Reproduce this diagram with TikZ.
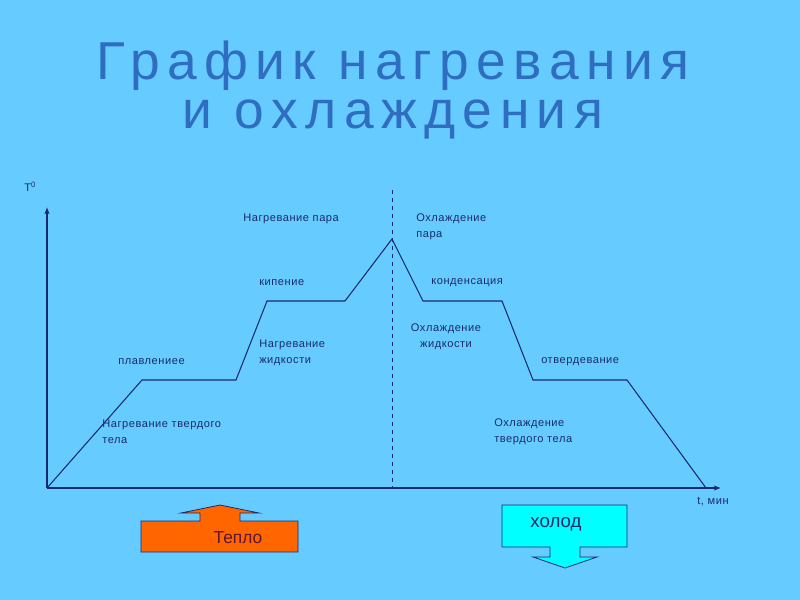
\documentclass[tikz,border=0pt]{standalone}
\usepackage{fontspec}
\setmainfont{Liberation Sans}
\newfontfamily\titlefont[LetterSpace=14]{Liberation Sans}
\newfontfamily\lblfont[LetterSpace=5]{Liberation Sans}
\usetikzlibrary{arrows.meta}
\definecolor{bgblue}{HTML}{66CCFF}
\definecolor{inkblue}{HTML}{1A2A6C}
\definecolor{titleblue}{HTML}{2E6DBF}
\definecolor{warm}{HTML}{FF6600}
\definecolor{cold}{HTML}{00FFFF}

\begin{document}
\begin{tikzpicture}[x=0.75pt, y=-0.75pt,
		lbl/.style={anchor=west, inner sep=0pt, font=\lblfont\fontsize{8.3}{12}\selectfont, text=inkblue, align=left},
		curve/.style={inkblue, line width=0.8pt}]
		\fill[bgblue] (0, 0) rectangle (800, 600);
		\useasboundingbox (0, 0) rectangle (800, 600);
		
		\node[text=titleblue, inner sep=0pt, font=\titlefont\fontsize{40}{44}\selectfont] (title1) at (393, 66) {График нагревания};
		\node[text=titleblue, inner sep=0pt, font=\titlefont\fontsize{40}{44}\selectfont] (title2) at (393, 119) {и охлаждения};
		
		% Оси
		\coordinate (o) at (47, 488);
		\coordinate (ytop) at (47, 207);
		\coordinate (xend) at (721, 488);
		\draw[curve, -{Latex[length=5pt, width=4pt]}] (o) -- (ytop);
		\draw[curve, -{Latex[length=5pt, width=4pt]}] (o) -- (xend);
		\node[lbl] (tlab) at (24, 187) {T\textsuperscript{0}};
		\node[lbl] (tmin) at (697, 502) {t, мин};
		
		% Кривая
		\coordinate (peak) at (392, 239);
		\draw[curve] (o) -- (142, 380) -- (236, 380) -- (267, 301) -- (345, 301) -- (peak)
			-- (423, 301) -- (502, 301) -- (533, 380) -- (627, 380) -- (706, 488);
		\draw[inkblue, dashed, line width=0.5pt] (392, 190) -- (392, 488);
		
		\node[lbl] (l1) at (243, 219) {Нагревание пара};
		\node[lbl] (l2) at (416, 227) {Охлаждение\\пара};
		\node[lbl] (l3) at (259, 283) {кипение};
		\node[lbl] (l4) at (431, 283) {конденсация};
		\node[lbl] (l5) at (259, 353) {Нагревание\\жидкости};
		\node[lbl, anchor=center, align=center] (l6) at (446, 337) {Охлаждение\\жидкости};
		\node[lbl] (l7) at (118, 362) {плавлениее};
		\node[lbl] (l8) at (541, 362) {отвердевание};
		\node[lbl] (l9) at (102, 432) {Нагревание твердого\\тела};
		\node[lbl] (l10) at (494, 432) {Охлаждение\\твердого тела};
		
		% Тепло
		\draw[fill=warm, draw=inkblue, line width=0.6pt] (141, 521) -- (200, 521) -- (200, 513) -- (181, 513)
			-- (220, 505) -- (259, 513) -- (240, 513) -- (240, 521) -- (298, 521) -- (298, 552) -- (141, 552) -- cycle;
		\node[font=\fontsize{13}{15}\selectfont, text=inkblue!60!red!80!black] (warmtext) at (238, 538) {Тепло};
		
		% Холод
		\draw[fill=cold, draw=inkblue, line width=0.6pt] (502, 505) -- (627, 505) -- (627, 547) -- (580, 547)
			-- (580, 557) -- (597, 557) -- (565, 568) -- (533, 557) -- (550, 557) -- (550, 547) -- (502, 547) -- cycle;
		\node[font=\fontsize{14}{16}\selectfont, text=inkblue] (coldtext) at (556, 524) {холод};
	\end{tikzpicture}
\end{document}
